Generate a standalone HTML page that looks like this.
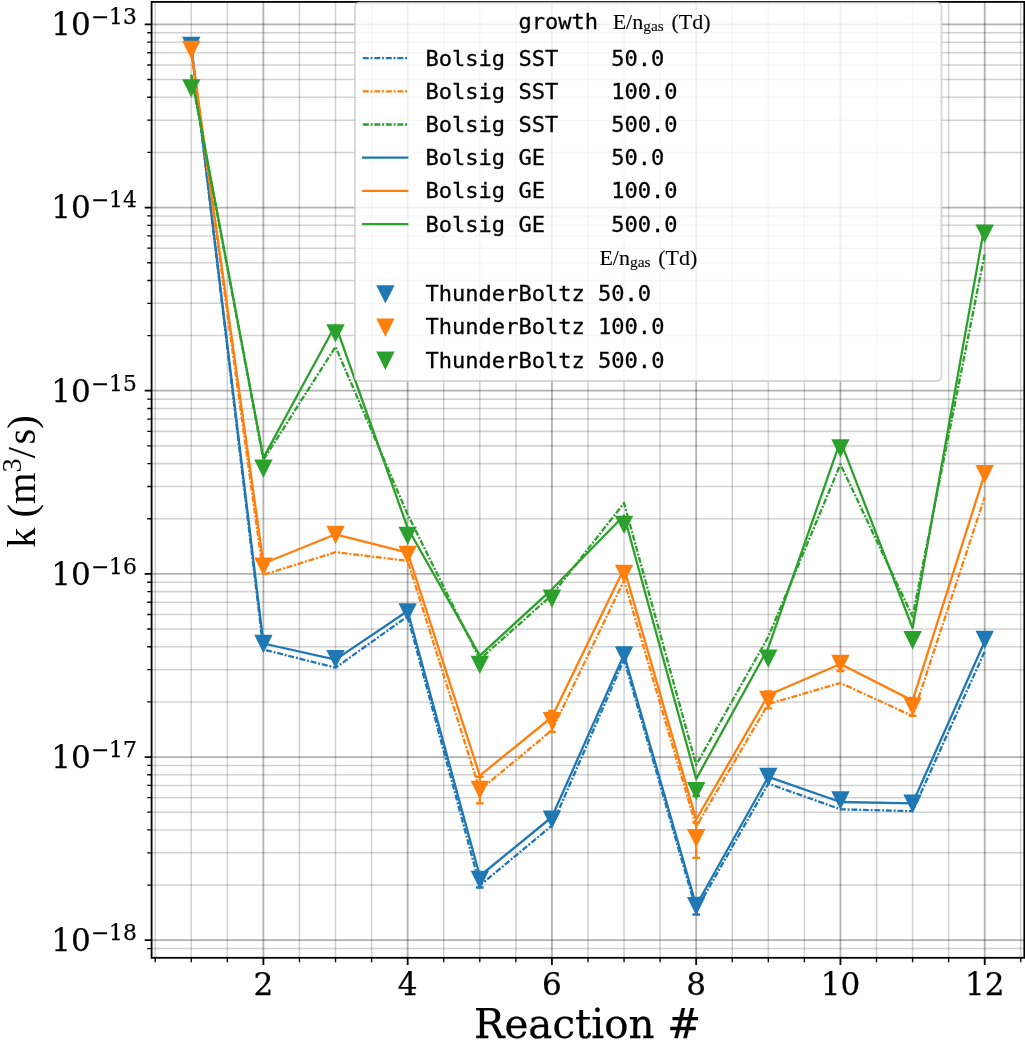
<!DOCTYPE html>
<html lang="en"><head><meta charset="utf-8"><title>Rate coefficients</title>
<style>html,body{margin:0;padding:0;background:#fff}svg{display:block}</style></head>
<body>
<svg width="1025" height="1040" viewBox="0 0 1025 1040">
<rect width="1025" height="1040" fill="#fff"/>
<g id="grid" fill="none">
<path d="M155.20 1.9V957.8M191.27 1.9V957.8M227.33 1.9V957.8M299.46 1.9V957.8M335.53 1.9V957.8M371.59 1.9V957.8M443.72 1.9V957.8M479.79 1.9V957.8M515.86 1.9V957.8M587.98 1.9V957.8M624.05 1.9V957.8M660.12 1.9V957.8M732.24 1.9V957.8M768.31 1.9V957.8M804.37 1.9V957.8M876.50 1.9V957.8M912.57 1.9V957.8M948.63 1.9V957.8M1020.76 1.9V957.8" stroke="#000" stroke-opacity=".175" stroke-width="1.55"/>
<path d="M151.6 948.58H1024.3M151.6 885.06H1024.3M151.6 852.81H1024.3M151.6 829.93H1024.3M151.6 812.18H1024.3M151.6 797.67H1024.3M151.6 785.41H1024.3M151.6 774.79H1024.3M151.6 765.42H1024.3M151.6 701.90H1024.3M151.6 669.65H1024.3M151.6 646.77H1024.3M151.6 629.02H1024.3M151.6 614.51H1024.3M151.6 602.25H1024.3M151.6 591.63H1024.3M151.6 582.26H1024.3M151.6 518.74H1024.3M151.6 486.49H1024.3M151.6 463.61H1024.3M151.6 445.86H1024.3M151.6 431.35H1024.3M151.6 419.09H1024.3M151.6 408.47H1024.3M151.6 399.10H1024.3M151.6 335.58H1024.3M151.6 303.33H1024.3M151.6 280.45H1024.3M151.6 262.70H1024.3M151.6 248.19H1024.3M151.6 235.93H1024.3M151.6 225.31H1024.3M151.6 215.94H1024.3M151.6 152.42H1024.3M151.6 120.17H1024.3M151.6 97.29H1024.3M151.6 79.54H1024.3M151.6 65.03H1024.3M151.6 52.77H1024.3M151.6 42.15H1024.3M151.6 32.78H1024.3" stroke="#000" stroke-opacity=".175" stroke-width="1.55"/>
<path d="M263.40 1.9V957.8M407.66 1.9V957.8M551.92 1.9V957.8M696.18 1.9V957.8M840.44 1.9V957.8M984.70 1.9V957.8" stroke="#000" stroke-opacity=".3" stroke-width="1.8"/>
<path d="M151.6 940.20H1024.3M151.6 757.04H1024.3M151.6 573.88H1024.3M151.6 390.72H1024.3M151.6 207.56H1024.3M151.6 24.40H1024.3" stroke="#000" stroke-opacity=".3" stroke-width="1.8"/>
</g>
<clipPath id="cp"><rect x="151.6" y="1.9" width="872.6999999999999" height="955.9"/></clipPath>
<g clip-path="url(#cp)">
<polyline points="191.27,46.00 263.40,643.50 335.53,659.60 407.66,611.00 479.79,876.00 551.92,817.00 624.05,654.50 696.18,905.50 768.31,776.80 840.44,802.00 912.57,803.30 984.70,641.50" fill="none" stroke="#1f77b4" stroke-width="2.3" stroke-linejoin="round"/>
<polyline points="191.27,47.00 263.40,649.50 335.53,667.70 407.66,616.30 479.79,885.50 551.92,825.60 624.05,659.50 696.18,910.00 768.31,783.60 840.44,809.30 912.57,811.20 984.70,651.50" fill="none" stroke="#1f77b4" stroke-width="2.3" stroke-dasharray="6 1.8 2 1.7" stroke-linejoin="round"/>
<path d="M479.79 873V887.5M475.99 873h7.6M475.99 887.5h7.6" stroke="#1f77b4" stroke-width="2.3" fill="none"/>
<path d="M696.18 898V914.5M692.38 898h7.6M692.38 914.5h7.6" stroke="#1f77b4" stroke-width="2.3" fill="none"/>
<path d="M182.07 36.80H200.47L191.27 55.20Z" fill="#1f77b4"/>
<path d="M254.20 634.80H272.60L263.40 653.20Z" fill="#1f77b4"/>
<path d="M326.33 650.00H344.73L335.53 668.40Z" fill="#1f77b4"/>
<path d="M398.46 603.20H416.86L407.66 621.60Z" fill="#1f77b4"/>
<path d="M470.59 870.80H488.99L479.79 889.20Z" fill="#1f77b4"/>
<path d="M542.72 810.40H561.12L551.92 828.80Z" fill="#1f77b4"/>
<path d="M614.85 646.30H633.25L624.05 664.70Z" fill="#1f77b4"/>
<path d="M686.98 897.10H705.38L696.18 915.50Z" fill="#1f77b4"/>
<path d="M759.11 767.80H777.51L768.31 786.20Z" fill="#1f77b4"/>
<path d="M831.24 791.30H849.64L840.44 809.70Z" fill="#1f77b4"/>
<path d="M903.37 794.50H921.77L912.57 812.90Z" fill="#1f77b4"/>
<path d="M975.50 630.80H993.90L984.70 649.20Z" fill="#1f77b4"/>
<polyline points="191.27,50.00 263.40,563.50 335.53,534.30 407.66,552.70 479.79,775.60 551.92,717.00 624.05,568.40 696.18,819.50 768.31,695.00 840.44,664.00 912.57,700.60 984.70,473.60" fill="none" stroke="#ff7f0e" stroke-width="2.3" stroke-linejoin="round"/>
<polyline points="191.27,52.00 263.40,574.80 335.53,552.20 407.66,560.80 479.79,790.00 551.92,730.20 624.05,580.50 696.18,826.40 768.31,704.00 840.44,683.00 912.57,716.00 984.70,497.10" fill="none" stroke="#ff7f0e" stroke-width="2.3" stroke-dasharray="6 1.8 2 1.7" stroke-linejoin="round"/>
<path d="M479.79 776.8V803.4M475.99 776.8h7.6M475.99 803.4h7.6" stroke="#ff7f0e" stroke-width="2.3" fill="none"/>
<path d="M551.92 711V731.8M548.12 711h7.6M548.12 731.8h7.6" stroke="#ff7f0e" stroke-width="2.3" fill="none"/>
<path d="M696.18 822.5V857.9M692.38 822.5h7.6M692.38 857.9h7.6" stroke="#ff7f0e" stroke-width="2.3" fill="none"/>
<path d="M768.31 691.5V708.4M764.51 691.5h7.6M764.51 708.4h7.6" stroke="#ff7f0e" stroke-width="2.3" fill="none"/>
<path d="M840.44 656.5V671M836.64 656.5h7.6M836.64 671h7.6" stroke="#ff7f0e" stroke-width="2.3" fill="none"/>
<path d="M912.57 698V715.9M908.77 698h7.6M908.77 715.9h7.6" stroke="#ff7f0e" stroke-width="2.3" fill="none"/>
<path d="M182.07 40.80H200.47L191.27 59.20Z" fill="#ff7f0e"/>
<path d="M254.20 557.40H272.60L263.40 575.80Z" fill="#ff7f0e"/>
<path d="M326.33 525.80H344.73L335.53 544.20Z" fill="#ff7f0e"/>
<path d="M398.46 545.70H416.86L407.66 564.10Z" fill="#ff7f0e"/>
<path d="M470.59 780.80H488.99L479.79 799.20Z" fill="#ff7f0e"/>
<path d="M542.72 712.10H561.12L551.92 730.50Z" fill="#ff7f0e"/>
<path d="M614.85 564.70H633.25L624.05 583.10Z" fill="#ff7f0e"/>
<path d="M686.98 829.00H705.38L696.18 847.40Z" fill="#ff7f0e"/>
<path d="M759.11 690.80H777.51L768.31 709.20Z" fill="#ff7f0e"/>
<path d="M831.24 654.80H849.64L840.44 673.20Z" fill="#ff7f0e"/>
<path d="M903.37 697.60H921.77L912.57 716.00Z" fill="#ff7f0e"/>
<path d="M975.50 465.10H993.90L984.70 483.50Z" fill="#ff7f0e"/>
<polyline points="191.27,74.60 263.40,457.80 335.53,325.00 407.66,528.00 479.79,655.60 551.92,589.30 624.05,515.50 696.18,779.00 768.31,647.70 840.44,440.80 912.57,628.00 984.70,225.00" fill="none" stroke="#2ca02c" stroke-width="2.3" stroke-linejoin="round"/>
<polyline points="191.27,76.00 263.40,459.80 335.53,346.80 407.66,514.50 479.79,659.30 551.92,595.00 624.05,503.00 696.18,764.80 768.31,636.80 840.44,464.30 912.57,616.50 984.70,253.80" fill="none" stroke="#2ca02c" stroke-width="2.3" stroke-dasharray="6 1.8 2 1.7" stroke-linejoin="round"/>
<path d="M696.18 786V795.8M692.38 786h7.6M692.38 795.8h7.6" stroke="#2ca02c" stroke-width="2.3" fill="none"/>
<path d="M182.07 79.20H200.47L191.27 97.60Z" fill="#2ca02c"/>
<path d="M254.20 459.60H272.60L263.40 478.00Z" fill="#2ca02c"/>
<path d="M326.33 324.20H344.73L335.53 342.60Z" fill="#2ca02c"/>
<path d="M398.46 526.70H416.86L407.66 545.10Z" fill="#2ca02c"/>
<path d="M470.59 655.70H488.99L479.79 674.10Z" fill="#2ca02c"/>
<path d="M542.72 589.60H561.12L551.92 608.00Z" fill="#2ca02c"/>
<path d="M614.85 515.70H633.25L624.05 534.10Z" fill="#2ca02c"/>
<path d="M686.98 781.90H705.38L696.18 800.30Z" fill="#2ca02c"/>
<path d="M759.11 649.40H777.51L768.31 667.80Z" fill="#2ca02c"/>
<path d="M831.24 439.30H849.64L840.44 457.70Z" fill="#2ca02c"/>
<path d="M903.37 631.10H921.77L912.57 649.50Z" fill="#2ca02c"/>
<path d="M975.50 224.50H993.90L984.70 242.90Z" fill="#2ca02c"/>
</g>
<path d="M263.40 957.8v7.2M407.66 957.8v7.2M551.92 957.8v7.2M696.18 957.8v7.2M840.44 957.8v7.2M984.70 957.8v7.2M151.6 940.20h-6.9M151.6 757.04h-6.9M151.6 573.88h-6.9M151.6 390.72h-6.9M151.6 207.56h-6.9M151.6 24.40h-6.9" stroke="#000" stroke-width="1.8" fill="none"/>
<path d="M155.20 957.8v4.4M191.27 957.8v4.4M227.33 957.8v4.4M299.46 957.8v4.4M335.53 957.8v4.4M371.59 957.8v4.4M443.72 957.8v4.4M479.79 957.8v4.4M515.86 957.8v4.4M587.98 957.8v4.4M624.05 957.8v4.4M660.12 957.8v4.4M732.24 957.8v4.4M768.31 957.8v4.4M804.37 957.8v4.4M876.50 957.8v4.4M912.57 957.8v4.4M948.63 957.8v4.4M1020.76 957.8v4.4M151.6 948.58h-4.4M151.6 885.06h-4.4M151.6 852.81h-4.4M151.6 829.93h-4.4M151.6 812.18h-4.4M151.6 797.67h-4.4M151.6 785.41h-4.4M151.6 774.79h-4.4M151.6 765.42h-4.4M151.6 701.90h-4.4M151.6 669.65h-4.4M151.6 646.77h-4.4M151.6 629.02h-4.4M151.6 614.51h-4.4M151.6 602.25h-4.4M151.6 591.63h-4.4M151.6 582.26h-4.4M151.6 518.74h-4.4M151.6 486.49h-4.4M151.6 463.61h-4.4M151.6 445.86h-4.4M151.6 431.35h-4.4M151.6 419.09h-4.4M151.6 408.47h-4.4M151.6 399.10h-4.4M151.6 335.58h-4.4M151.6 303.33h-4.4M151.6 280.45h-4.4M151.6 262.70h-4.4M151.6 248.19h-4.4M151.6 235.93h-4.4M151.6 225.31h-4.4M151.6 215.94h-4.4M151.6 152.42h-4.4M151.6 120.17h-4.4M151.6 97.29h-4.4M151.6 79.54h-4.4M151.6 65.03h-4.4M151.6 52.77h-4.4M151.6 42.15h-4.4M151.6 32.78h-4.4" stroke="#000" stroke-width="1.35" fill="none"/>
<rect x="151.6" y="1.9" width="872.6999999999999" height="955.9" fill="none" stroke="#000" stroke-width="1.8"/>
<g font-family="'DejaVu Serif','Liberation Serif',serif" fill="#000" stroke="#000" stroke-width=".25">
<text x="263.40" y="994.5" font-size="31.1" text-anchor="middle">2</text>
<text x="407.66" y="994.5" font-size="31.1" text-anchor="middle">4</text>
<text x="551.92" y="994.5" font-size="31.1" text-anchor="middle">6</text>
<text x="696.18" y="994.5" font-size="31.1" text-anchor="middle">8</text>
<text x="840.44" y="994.5" font-size="31.1" text-anchor="middle">10</text>
<text x="984.70" y="994.5" font-size="31.1" text-anchor="middle">12</text>
<text x="51.3" y="35.20" font-size="31.1">10<tspan font-size="21.77" dy="-11">−13</tspan></text>
<text x="51.3" y="218.36" font-size="31.1">10<tspan font-size="21.77" dy="-11">−14</tspan></text>
<text x="51.3" y="401.52" font-size="31.1">10<tspan font-size="21.77" dy="-11">−15</tspan></text>
<text x="51.3" y="584.68" font-size="31.1">10<tspan font-size="21.77" dy="-11">−16</tspan></text>
<text x="51.3" y="767.84" font-size="31.1">10<tspan font-size="21.77" dy="-11">−17</tspan></text>
<text x="51.3" y="951.00" font-size="31.1">10<tspan font-size="21.77" dy="-11">−18</tspan></text>
<text x="587.6" y="1038.2" font-size="40.4" text-anchor="middle">Reaction #</text>
</g>
<text transform="translate(35.1 481.5) rotate(-90)" font-family="'Liberation Serif',serif" font-size="40.5" text-anchor="middle">k (m<tspan font-size="28.3" dy="-14.5">3</tspan><tspan dy="14.5">/</tspan><tspan dx="2.5">s)</tspan></text>
<rect x="354.9" y="2.7" width="586.6" height="378.3" rx="4.4" fill="#fff" fill-opacity=".8" stroke="#ccc" stroke-opacity=".8" stroke-width="1.8"/>
<g font-family="'DejaVu Sans Mono','Liberation Mono',monospace" font-size="22.05" fill="#000" stroke="#000" stroke-width=".3" xml:space="preserve">
<text x="518.39" y="28.5">growth</text>
<text x="612.68" y="28.5" font-family="'Liberation Serif',serif" font-size="22" stroke-width=".1">E/n<tspan font-size="15.4" dy="2.7">gas</tspan><tspan dy="-2.7" dx="2.2"> (Td)</tspan></text>
<path d="M362.8 58.10H407.1" stroke="#1f77b4" stroke-width="2.3" stroke-dasharray="6 1.8 2 1.7" fill="none"/>
<text x="425.5" y="65.5">Bolsig SST</text>
<text x="611.28" y="65.5">50.0</text>
<path d="M362.8 91.30H407.1" stroke="#ff7f0e" stroke-width="2.3" stroke-dasharray="6 1.8 2 1.7" fill="none"/>
<text x="425.5" y="98.7">Bolsig SST</text>
<text x="611.28" y="98.7">100.0</text>
<path d="M362.8 124.50H407.1" stroke="#2ca02c" stroke-width="2.3" stroke-dasharray="6 1.8 2 1.7" fill="none"/>
<text x="425.5" y="131.9">Bolsig SST</text>
<text x="611.28" y="131.9">500.0</text>
<path d="M362 157.70H408.4" stroke="#1f77b4" stroke-width="2.3" fill="none"/>
<text x="425.5" y="165.1">Bolsig GE</text>
<text x="611.28" y="165.1">50.0</text>
<path d="M362 190.90H408.4" stroke="#ff7f0e" stroke-width="2.3" fill="none"/>
<text x="425.5" y="198.3">Bolsig GE</text>
<text x="611.28" y="198.3">100.0</text>
<path d="M362 224.10H408.4" stroke="#2ca02c" stroke-width="2.3" fill="none"/>
<text x="425.5" y="231.5">Bolsig GE</text>
<text x="611.28" y="231.5">500.0</text>
<text x="599.41" y="264.5" font-family="'Liberation Serif',serif" font-size="22" stroke-width=".1">E/n<tspan font-size="15.4" dy="2.7">gas</tspan><tspan dy="-2.7" dx="2.2"> (Td)</tspan></text>
<path d="M376.20 285.20H394.60L385.4 303.60Z" fill="#1f77b4" stroke="none"/>
<text x="425.5" y="301.2">ThunderBoltz 50.0</text>
<path d="M376.20 318.40H394.60L385.4 336.80Z" fill="#ff7f0e" stroke="none"/>
<text x="425.5" y="334.4">ThunderBoltz 100.0</text>
<path d="M376.20 351.50H394.60L385.4 369.90Z" fill="#2ca02c" stroke="none"/>
<text x="425.5" y="367.5">ThunderBoltz 500.0</text>
</g>
</svg>
</body></html>
